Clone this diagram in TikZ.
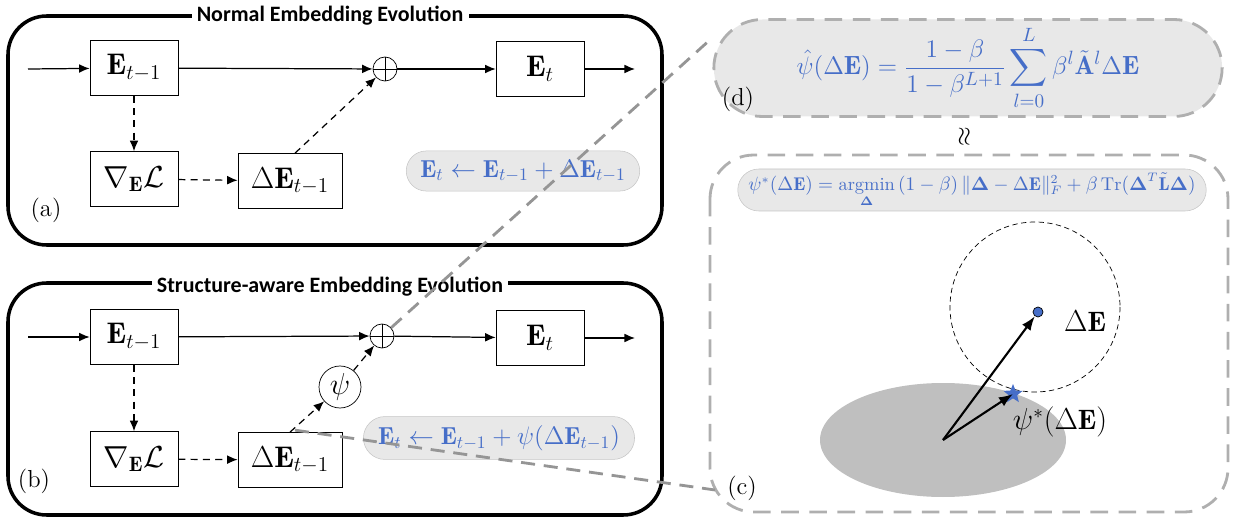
\documentclass[tikz,border=0pt]{standalone}
\usepackage{fontspec}
\newfontfamily\titlefont{Carlito}
\usepackage{amsmath,amssymb,graphicx}
\usetikzlibrary{arrows.meta,shapes.geometric,shapes.misc}
\definecolor{fblue}{RGB}{70,110,200}
\definecolor{pill}{RGB}{232,232,232}
\definecolor{dgray}{RGB}{175,175,175}
\begin{document}
\begin{tikzpicture}[x=0.02cm,y=-0.02cm,
  panel/.style={draw,line width=2pt,rounded corners=22pt},
  ttl/.style={fill=white,font=\titlefont\bfseries\fontsize{12.5}{14}\selectfont,inner sep=3pt},
  box/.style={draw,minimum width=88*0.02cm,minimum height=55*0.02cm,inner sep=1pt,font=\fontsize{17}{20}\selectfont},
  plus/.style={draw,circle,minimum size=24*0.02cm,inner sep=0pt,path picture={\draw (path picture bounding box.north)--(path picture bounding box.south) (path picture bounding box.west)--(path picture bounding box.east);}},
  sol/.style={-{Latex[length=6pt,width=5pt]},line width=0.7pt},
  das/.style={-{Latex[length=6pt,width=5pt]},line width=0.7pt,dash pattern=on 4pt off 3pt},
  formula/.style={rounded rectangle,fill=pill,draw=pill!85!black,line width=0.3pt,text=fblue,inner xsep=6pt,inner ysep=5pt,font=\fontsize{14}{16}\selectfont},
  lbl/.style={font=\fontsize{14}{16}\selectfont},
  link/.style={dgray!85!black,line width=1.6pt,dash pattern=on 8pt off 5pt}]
\useasboundingbox (0,0) rectangle (1238,520);
% Panel (a)
\draw[panel] (8,16) rectangle (662,245);
\node[ttl] (ta) at (330,16) {Normal Embedding Evolution};
\coordinate (ina) at (28,69);
\node[box] (ea) at (134,68) {$\mathbf{E}_{t-1}$};
\node[plus] (pa) at (385,69) {};
\node[box] (eta) at (540,69) {$\mathbf{E}_{t}$};
\coordinate (outa) at (635,69);
\node[box] (ga) at (134,179) {$\nabla_{\mathbf{E}}\mathcal{L}$};
\node[box,minimum width=104*0.02cm] (da) at (290,181) {$\Delta\mathbf{E}_{t-1}$};
\draw[sol] (ina)--(ea); \draw[sol] (ea)--(pa); \draw[sol] (pa)--(eta); \draw[sol] (eta)--(outa);
\draw[das] (ea)--(ga); \draw[das] (ga)--(da);
\draw[das] (da.north)++(5,0) coordinate (dat) -- (pa);
\node[formula] (fa) at (523,171) {$\mathbf{E}_t \leftarrow \mathbf{E}_{t-1}+\Delta\mathbf{E}_{t-1}$};
\node[lbl] (la) at (46,210) {(a)};
% Panel (b)
\draw[panel] (8,283) rectangle (662,515);
\node[ttl] (tb) at (330,287) {Structure-aware Embedding Evolution};
\coordinate (inb) at (28,337);
\node[box] (eb) at (134,337) {$\mathbf{E}_{t-1}$};
\node[plus] (pb) at (382,336) {};
\node[box] (etb) at (540,338) {$\mathbf{E}_{t}$};
\coordinate (outb) at (635,338);
\node[box] (gb) at (134,459) {$\nabla_{\mathbf{E}}\mathcal{L}$};
\node[box,minimum width=104*0.02cm] (db) at (290,460) {$\Delta\mathbf{E}_{t-1}$};
\node[draw,circle,minimum size=42*0.02cm,inner sep=0pt,font=\fontsize{17}{20}\selectfont] (psi) at (340,387) {$\psi$};
\draw[sol] (inb)--(eb); \draw[sol] (eb)--(pb); \draw[sol] (pb)--(etb); \draw[sol] (etb)--(outb);
\draw[das] (eb)--(gb); \draw[das] (gb)--(db);
\draw[das] (db.north) -- (psi); \draw[das] (psi)--(pb);
\node[formula] (fb) at (499,438) {$\mathbf{E}_t \leftarrow \mathbf{E}_{t-1}+\psi(\Delta\mathbf{E}_{t-1})$};
\node[lbl] (lb) at (34,481) {(b)};
% Right side
\node[rounded rectangle,fill=pill,draw=dgray,line width=1.6pt,dash pattern=on 10pt off 6pt,minimum width=520*0.02cm,minimum height=97*0.02cm,text=fblue,font=\fontsize{15}{18}\selectfont] (pd) at (968,68)
 {$\hat{\psi}(\Delta\mathbf{E})=\dfrac{1-\beta}{1-\beta^{L+1}}\displaystyle\sum_{l=0}^{L}\beta^l\tilde{\mathbf{A}}^l\Delta\mathbf{E}$};
\node[lbl] (ld) at (738,99) {(d)};
\node[font=\fontsize{14}{16}\selectfont] (wr) at (965,137) {\rotatebox{90}{$\approx$}};
\draw[dgray,line width=1.6pt,dash pattern=on 10pt off 6pt,rounded corners=25pt] (710,155) rectangle (1228,512);
\node[formula,font=\fontsize{10.5}{12}\selectfont,inner ysep=2pt,minimum height=42*0.02cm,minimum width=465*0.02cm,inner xsep=1pt] (pc) at (972,190)
 {$\psi^*(\Delta\mathbf{E})=\mathop{\mathrm{argmin}}\limits_{\boldsymbol\Delta}\,(1-\beta)\,\|\boldsymbol\Delta-\Delta\mathbf{E}\|_F^2+\beta\,\mathrm{Tr}(\boldsymbol\Delta^T\tilde{\mathbf{L}}\boldsymbol\Delta)$};
\node[lbl] (lc) at (742,488) {(c)};
\fill[black!25] (943,440) ellipse [x radius=123, y radius=57];
\draw[densely dashed,line width=0.4pt] (1035,307) circle [radius=85];
\coordinate (o) at (943,440);
\node[circle,fill=fblue,draw=black,line width=0.4pt,minimum size=10*0.02cm,inner sep=0pt] (dot) at (1038,312) {};
\node[star,star points=5,star point ratio=2.3,fill=fblue,minimum size=20*0.02cm,inner sep=0pt] (st) at (1013,394) {};
\draw[-{Latex[length=8pt,width=6pt]},line width=1.2pt] (o)--(dot);
\draw[-{Latex[length=8pt,width=6pt]},line width=1.2pt] (o)--(st.center);
\node[font=\fontsize{16}{18}\selectfont] (dl) at (1085,321) {$\Delta\mathbf{E}$};
\node[font=\fontsize{16}{18}\selectfont] (sl) at (1060,422) {$\psi^*(\Delta\mathbf{E})$};
% links
\draw[link] (pb) -- (712,38);
\draw[link] (db.north) ++(5,-2) -- (715,490);
\end{tikzpicture}
\end{document}
